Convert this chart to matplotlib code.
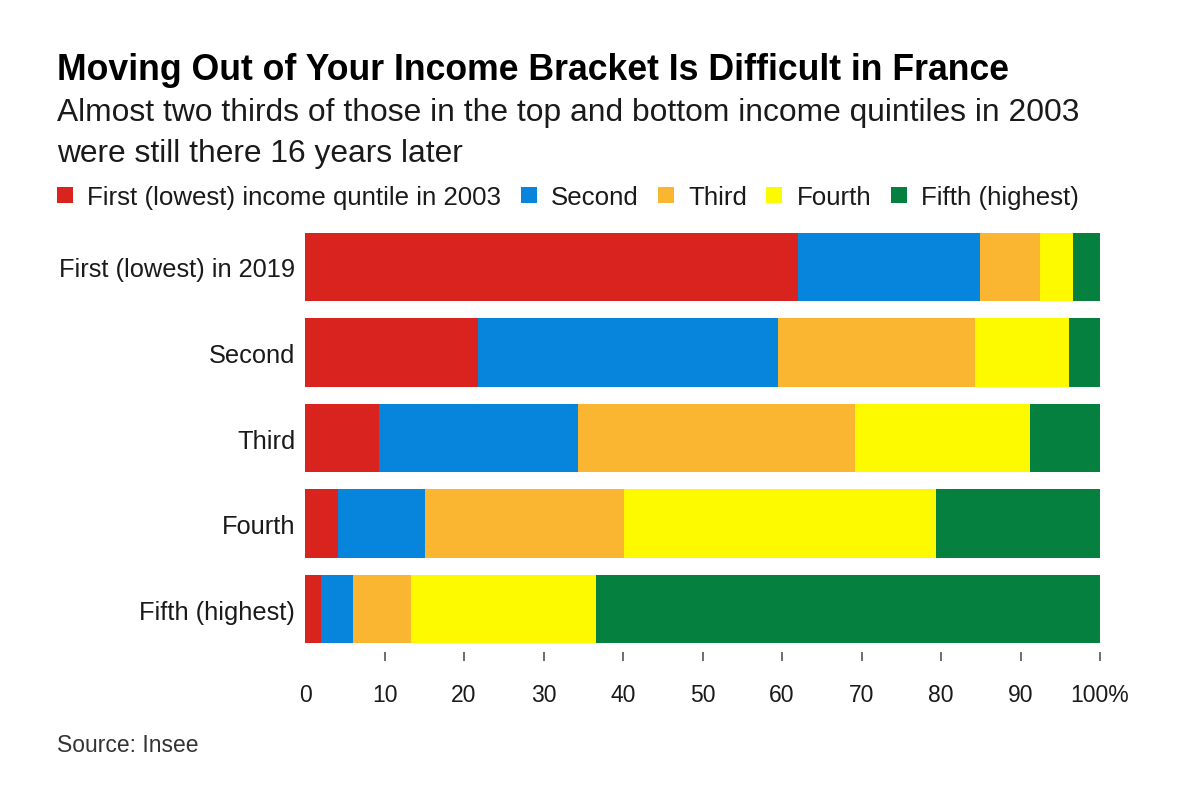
import matplotlib
matplotlib.use("Agg")
import matplotlib.pyplot as plt
from matplotlib.patches import Patch
import numpy as np

plt.rcParams['font.family'] = ['Liberation Sans', 'DejaVu Sans']

categories = ["First (lowest) in 2019", "Second", "Third", "Fourth", "Fifth (highest)"]
series_names = ["First (lowest) income quntile in 2003", "Second", "Third", "Fourth", "Fifth (highest)"]
first_2003 = [62.0, 21.8, 9.3, 4.2, 2.0]
second_2003 = [22.9, 37.7, 25.0, 10.9, 4.0]
third_2003 = [7.6, 24.8, 34.9, 25.0, 7.3]
fourth_2003 = [4.1, 11.8, 22.0, 39.3, 23.3]
fifth_2003 = [3.4, 3.9, 8.8, 20.6, 63.4]
colors = ["#d9231e", "#0784dc", "#fbb631", "#fdfa00", "#05803f"]
xticks = [0, 10, 20, 30, 40, 50, 60, 70, 80, 90, 100]
xticklabels = ["0", "10", "20", "30", "40", "50", "60", "70", "80", "90", "100%"]

fig = plt.figure(figsize=(12, 8.03), dpi=100)
ax = fig.add_axes([305/1200, 1-653/803, 795/1200, 428/803])

series = [first_2003, second_2003, third_2003, fourth_2003, fifth_2003]
y = np.arange(len(categories))
left = np.zeros(len(categories))
for vals, c in zip(series, colors):
    ax.barh(y, vals, left=left, height=0.8, color=c, edgecolor='none')
    left += np.array(vals)

ax.set_xlim(0, 100)
ax.set_ylim(len(categories) - 0.5, -0.5)
ax.set_yticks(y)
ax.set_yticklabels(categories, fontsize=18.3, color="#1a1a1a")
ax.set_xticks(xticks)
ax.set_xticklabels(xticklabels, fontsize=16.5, color="#1a1a1a")
for s in ax.spines.values():
    s.set_visible(False)
ax.tick_params(axis='y', length=0, pad=7)
ax.tick_params(axis='x', length=6.5, width=1.2, color="#555555", pad=16, direction='out')
xt = ax.xaxis.get_major_ticks()
xt[0].tick1line.set_visible(False)

fig.text(57/1200, 1-71/803, "Moving Out of Your Income Bracket Is Difficult in France",
         fontsize=25.7, fontweight='bold', color="#000000", va='center', ha='left')
fig.text(57/1200, 1-113/803, "Almost two thirds of those in the top and bottom income quintiles in 2003",
         fontsize=22.9, color="#1a1a1a", va='center', ha='left')
fig.text(57/1200, 1-154/803, "were still there 16 years later",
         fontsize=22.9, color="#1a1a1a", va='center', ha='left')

handles = [Patch(facecolor=c, edgecolor='none') for c in colors]
fig.legend(handles, series_names, loc='center left', bbox_to_anchor=(57/1200, 1-198/803),
           ncol=5, frameon=False, fontsize=18.6, handlelength=0.62, handleheight=0.62,
           handletextpad=0.55, columnspacing=0.75, borderpad=0, borderaxespad=0,
           labelcolor="#1a1a1a")

fig.text(57/1200, 1-746/803, "Source: Insee", fontsize=16.5, color="#333333", va='center', ha='left')

fig.savefig("out.png", dpi=100)
